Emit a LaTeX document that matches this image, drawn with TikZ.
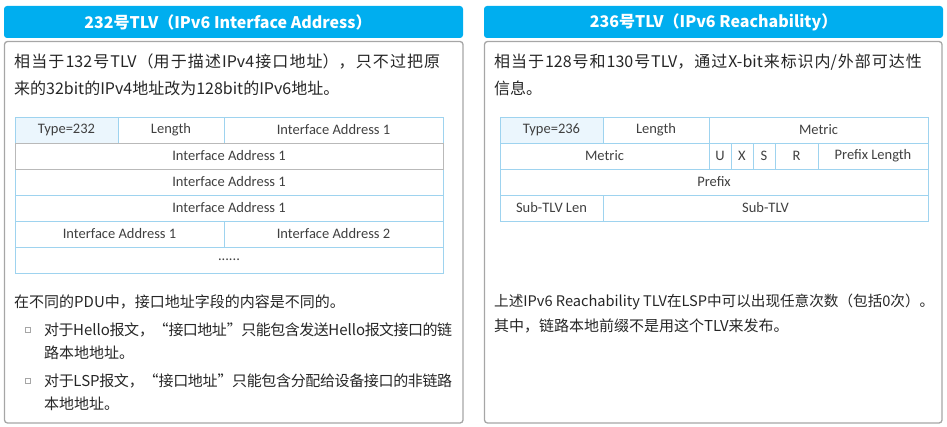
\documentclass[tikz,border=0pt]{standalone}
\usepackage{fontspec}
\setmainfont{Carlito}
\newfontfamily\cjk{Noto Sans CJK SC}
\usepackage{xcolor}

\XeTeXlinebreaklocale "zh"
\XeTeXlinebreakskip=0pt plus 3pt minus 1pt

\definecolor{hdrblue}{HTML}{00AEEF}
\definecolor{cellline}{HTML}{9ED3EF}
\definecolor{typefill}{HTML}{EBF6FD}
\definecolor{boxgray}{HTML}{A6A6A6}

\newcommand{\moredots}{......}
% one line, spread to the full width of the node
\newcommand{\fullline}[1]{\noindent\parfillskip=0pt\relax #1\par}

\tikzset{
  header/.style={fill=hdrblue, rounded corners=3pt},
  title/.style={text=white, inner sep=0pt, font=\cjk\bfseries\fontsize{16}{18}\selectfont},
  panel/.style={draw=boxgray, line width=1.3pt, rounded corners=3pt},
  cell/.style={draw=cellline, line width=0.9pt},
  celltext/.style={inner sep=0pt, text=black!75, font=\fontsize{14.5}{16}\selectfont},
  para/.style={anchor=west, inner sep=0pt, text=black!85, font=\cjk\fontsize{16}{18}\selectfont},
  note/.style={anchor=west, inner sep=0pt, text=black!85, font=\cjk\fontsize{15}{17}\selectfont},
  bulletbox/.style={draw=gray!70, line width=0.6pt, minimum size=4.5pt, inner sep=0pt},
}

\begin{document}
\begin{tikzpicture}[x=1pt,y=-1pt]
    \useasboundingbox (0,0) rectangle (947,427);

    % Headers
    \fill[header] (4,6) rectangle (463,38);
    \fill[header] (484,6) rectangle (943,38);
    \node[title] (hdrL) at (228,22) {232号TLV（IPv6 Interface Address）};
    \node[title] (hdrR) at (713.5,22) {236号TLV（IPv6 Reachability）};

    % Panels
    \draw[panel] (4.5,41.5) rectangle (463,423);
    \draw[panel] (484.5,41.5) rectangle (942,423);

    % Left panel text
    \node[para, text width=438pt] (pL1) at (14,62) {\fullline{相当于132号TLV（用于描述IPv4接口地址），只不过把原}};
    \node[para] (pL2) at (14,88) {来的32bit的IPv4地址改为128bit的IPv6地址。};

    % Type cells
    \fill[typefill] (15,117) rectangle (118,143);
    \fill[typefill] (500,117) rectangle (603,143);

    % Left table
    \foreach \xa/\xb/\ya/\yb/\txt/\nm in {
        15/118/117/143/Type=232/tA1, 118/224/117/143/Length/tA2,
        224/443/117/143/Interface Address 1/tA3,
        15/443/143/169/Interface Address 1/tB1,
        15/443/169/195/Interface Address 1/tC1,
        15/443/195/221/Interface Address 1/tD1,
        15/224/221/247/Interface Address 1/tE1, 224/443/221/247/Interface Address 2/tE2,
        15/443/247/273/\moredots/tF1} {
        \draw[cell] (\xa,\ya) rectangle (\xb,\yb);
        \node[celltext] (\nm) at ({(\xa+\xb)/2},{(\ya+\yb)/2}) {\txt};
    }
    \draw[cell, draw=gray!55] (15,143) rectangle (443,169);

    % Right table
    \foreach \xa/\xb/\ya/\yb/\txt/\nm in {
        500/603/117/143/Type=236/sA1, 603/709/117/143/Length/sA2,
        709/928/117/143/Metric/sA3,
        500/709/143/169/Metric/sB1, 709/731/143/169/U/sB2, 731/753/143/169/X/sB3,
        753/775/143/169/S/sB4, 775/818/143/169/R/sB5, 818/928/143/169/Prefix Length/sB6,
        500/928/169/195/Prefix/sC1,
        500/603/195/221/Sub-TLV Len/sD1, 603/928/195/221/Sub-TLV/sD2} {
        \draw[cell] (\xa,\ya) rectangle (\xb,\yb);
        \node[celltext] (\nm) at ({(\xa+\xb)/2},{(\ya+\yb)/2}) {\txt};
    }

    % Left notes
    \node[note] (nL0) at (14,302) {在不同的PDU中，接口地址字段的内容是不同的。};
    \node[bulletbox] (bL1) at (28,330) {};
    \node[note, text width=408pt] (nL1) at (44,330) {\fullline{对于Hello报文，“接口地址”只能包含发送Hello报文接口的链}};
    \node[note] (nL2) at (44,353) {路本地地址。};
    \node[bulletbox] (bL2) at (28,381) {};
    \node[note, text width=408pt] (nL3) at (44,381) {\fullline{对于LSP报文，“接口地址”只能包含分配给设备接口的非链路}};
    \node[note] (nL4) at (44,404) {本地地址。};

    % Right panel text
    \node[para, text width=438pt] (pR1) at (494,62) {\fullline{相当于128号和130号TLV，通过X-bit来标识内/外部可达性}};
    \node[para] (pR2) at (494,88) {信息。};
    \node[note, font=\cjk\fontsize{14.6}{17}\selectfont] (nR1) at (494,302) {上述IPv6 Reachability TLV在LSP中可以出现任意次数（包括0次）。};
    \node[note] (nR2) at (494,326) {其中，链路本地前缀不是用这个TLV来发布。};

\end{tikzpicture}
\end{document}
